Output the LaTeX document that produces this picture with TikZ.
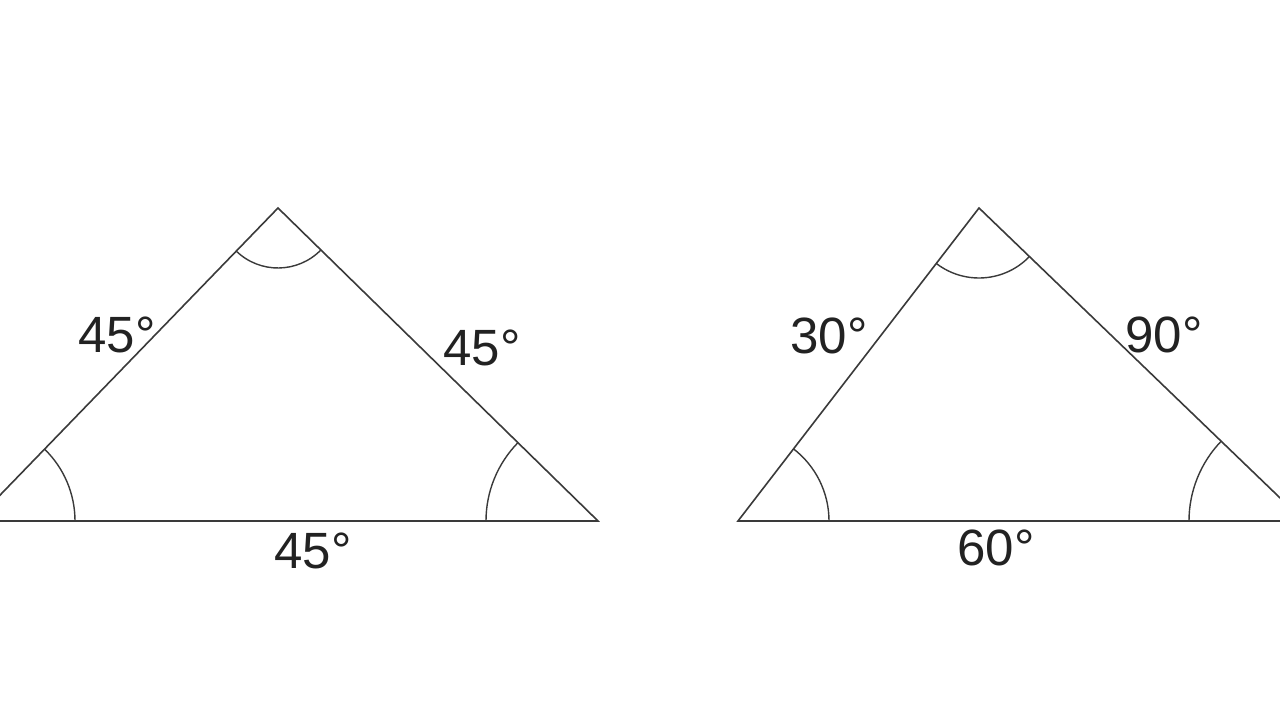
\documentclass[tikz,border=0pt]{standalone}
\usepackage{fontspec}
\setmainfont{Liberation Sans}
\definecolor{edgegray}{HTML}{3A3A3A}
\definecolor{labelgray}{HTML}{222222}
\tikzset{
	side/.style={draw=edgegray, line width=1.6pt, line join=miter},
	angarc/.style={draw=edgegray, line width=1.4pt},
	deg/.style={text=labelgray, inner sep=0pt, font=\fontsize{51}{55}\selectfont}
}
\begin{document}
\begin{tikzpicture}[x=1pt, y=1pt]
		\useasboundingbox (0,0) rectangle (1280,720);
		\fill[white] (0,0) rectangle (1280,720);
		\clip (0,0) rectangle (1280,720);
		% left triangle
		\coordinate (A1) at (-25,199);
		\coordinate (B1) at (598,199);
		\coordinate (C1) at (278,512);
		\draw[side] (A1) -- (B1) -- (C1) -- cycle;
		\draw[angarc] (A1) ++(0:100) arc[start angle=0, end angle=45.9, radius=100];
		\draw[angarc] (B1) ++(135.6:112) arc[start angle=135.6, end angle=180, radius=112];
		\draw[angarc] (C1) ++(225.9:60) arc[start angle=225.9, end angle=315.6, radius=60];
		\node[deg] (leftA) at (117,385) {45°};
		\node[deg] (leftB) at (482,372) {45°};
		\node[deg] (leftC) at (313,169) {45°};
		% right triangle
		\coordinate (A2) at (738,199);
		\coordinate (B2) at (1304,199);
		\coordinate (C2) at (979,512);
		\draw[side] (A2) -- (B2) -- (C2) -- cycle;
		\draw[angarc] (A2) ++(0:91) arc[start angle=0, end angle=52.4, radius=91];
		\draw[angarc] (B2) ++(136.1:115) arc[start angle=136.1, end angle=180, radius=115];
		\draw[angarc] (C2) ++(232.4:70) arc[start angle=232.4, end angle=316.1, radius=70];
		\node[deg] (rightA) at (829,384) {30°};
		\node[deg] (rightB) at (1164,385) {90°};
		\node[deg] (rightC) at (996,172) {60°};
	\end{tikzpicture}
\end{document}
